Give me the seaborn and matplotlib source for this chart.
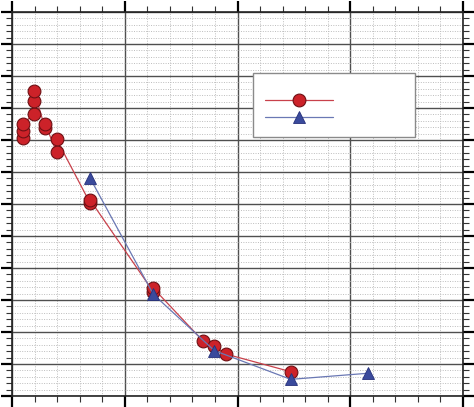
import pandas as pd
import numpy as np
import matplotlib.pyplot as plt
import matplotlib.ticker as mticker
import seaborn as sns

# values (axis units: x 0-4, y 0-12)
red_x = [0.095, 0.095, 0.095, 0.195, 0.195, 0.195, 0.293, 0.293, 0.396, 0.396,
         0.694, 0.694, 1.253, 1.253, 1.691, 1.794, 1.898, 2.472]
red_y = [8.50, 8.28, 8.05, 9.54, 9.23, 8.81, 8.50, 8.37, 8.02, 7.63,
         6.12, 6.02, 3.37, 3.26, 1.73, 1.56, 1.31, 0.76]
blue_x = [0.694, 1.253, 1.794, 2.472, 3.155]
blue_y = [6.80, 3.18, 1.42, 0.52, 0.71]

red_df = pd.DataFrame({"x": red_x, "y": red_y})
blue_df = pd.DataFrame({"x": blue_x, "y": blue_y})

sns.set_style("ticks")

fig = plt.figure(figsize=(4.74, 4.07), dpi=100)
ax = fig.add_axes([12 / 474, 11 / 407, 451 / 474, 384 / 407])

sns.lineplot(data=red_df, x="x", y="y", estimator=None, sort=True, ax=ax,
             color="#c8414b", linewidth=0.9, marker="o", markersize=9.2,
             markerfacecolor="#cc2229", markeredgecolor="#6e1014",
             markeredgewidth=0.8, label=" ", zorder=3)
sns.lineplot(data=blue_df, x="x", y="y", estimator=None, sort=True, ax=ax,
             color="#6a78b4", linewidth=0.9, marker="^", markersize=9,
             markerfacecolor="#3a4a9c", markeredgecolor="#26307a",
             markeredgewidth=0.6, label=" ", zorder=4)

ax.set_xlim(0, 4)
ax.set_ylim(0, 12)
ax.xaxis.set_major_locator(mticker.MultipleLocator(1))
ax.xaxis.set_minor_locator(mticker.MultipleLocator(0.2))
ax.yaxis.set_major_locator(mticker.MultipleLocator(1))
ax.yaxis.set_minor_locator(mticker.MultipleLocator(0.2))

ax.grid(which="major", color="#4f4f4f", linewidth=1.0, linestyle="-", zorder=0)
ax.grid(which="minor", color="#bdbdbd", linewidth=0.7, linestyle=(0, (1, 1.5)), zorder=0)
ax.set_axisbelow(True)

ax.tick_params(which="major", direction="out", length=8, width=1.6, color="black",
               top=True, right=True, labelleft=False, labelbottom=False)
ax.tick_params(which="minor", direction="out", length=4, width=0.8, color="#333333",
               top=True, right=True)
for s in ax.spines.values():
    s.set_color("#222222")
    s.set_linewidth(1.2)

ax.set_xlabel("")
ax.set_ylabel("")

ax.legend(loc="upper left", bbox_to_anchor=(0.534, 0.674, 0.359, 0.167),
          mode="expand", title=" ", fontsize=9, title_fontsize=4,
          handlelength=5.45, borderpad=0.95, labelspacing=0.35,
          fancybox=False, framealpha=1, edgecolor="#8a8a8a", borderaxespad=0)

fig.savefig("out.png", dpi=100)
